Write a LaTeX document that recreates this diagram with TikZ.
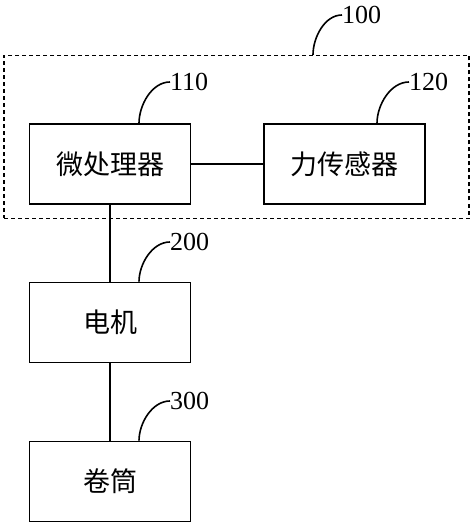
\documentclass[tikz,border=0pt]{standalone}
\usepackage{fontspec}
\setmainfont{Liberation Serif}
\newfontfamily\cjk{Noto Sans CJK SC}
\tikzset{
  block/.style={draw, line width=1.6pt, minimum width=161pt, minimum height=80pt, inner sep=0pt, font=\cjk\fontsize{27}{27}\selectfont},
  refnum/.style={anchor=west, inner sep=0pt, font=\fontsize{26}{26}\selectfont},
  leader/.style={line width=1.6pt, out=90, in=180, looseness=0.9}
}
\begin{document}
\begin{tikzpicture}[x=1pt,y=-1pt]
      \useasboundingbox (0,0) rectangle (474,526);

      \node[draw, line width=1.4pt, dash pattern=on 4pt off 3pt, minimum width=465pt, minimum height=163pt, inner sep=0pt] (sys) at (236.5,137) {};
      \node[block] (mcu) at (110,164) {微处理器};
      \node[block] (sensor) at (344.5,164) {力传感器};
      \node[block] (motor) at (110,322.5) {电机};
      \node[block] (drum) at (110,481.5) {卷筒};

      \node[refnum] (n100) at (342,15) {100};
      \node[refnum] (n110) at (170,82) {110};
      \node[refnum] (n120) at (409,82) {120};
      \node[refnum] (n200) at (170,242) {200};
      \node[refnum] (n300) at (170,401) {300};

      \draw[line width=1.6pt] (mcu) -- (sensor);
      \draw[line width=1.6pt] (mcu.south) -- (motor.north);
      \draw[line width=1.6pt] (motor.south) -- (drum.north);

      % leader lines to the reference numbers
      \draw[leader] ([xshift=76.5pt]sys.north) to (n100.west);
      \draw[leader] ([xshift=29pt]mcu.north) to (n110.west);
      \draw[leader] ([xshift=32.5pt]sensor.north) to (n120.west);
      \draw[leader] ([xshift=29pt]motor.north) to (n200.west);
      \draw[leader] ([xshift=29pt]drum.north) to (n300.west);
    \end{tikzpicture}
\end{document}
